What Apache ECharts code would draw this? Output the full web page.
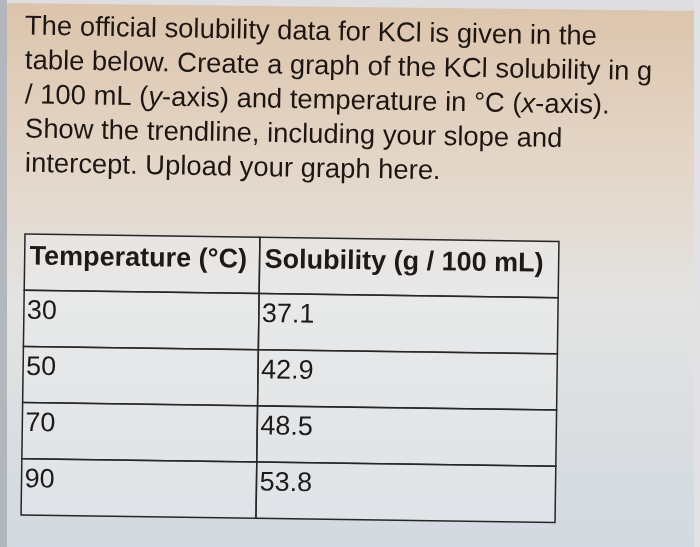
<!DOCTYPE html>
<html><head><meta charset="utf-8">
<script src="https://cdn.jsdelivr.net/npm/echarts@6/dist/echarts.min.js"></script>
<style>html,body{margin:0;padding:0;}#c{width:700px;height:547px;}</style>
</head><body><div id="c"></div>
<script>
// {i|..} marks italic letters as in the original prompt
var promptLines = [
  'The official solubility data for KCl is given in the',
  'table below. Create a graph of the KCl solubility in g',
  '/ 100 mL ({i|y}-axis) and temperature in \u00B0C ({i|x}-axis).',
  'Show the trendline, including your slope and',
  'intercept. Upload your graph here.'
];
var headers = ['Temperature (\u00B0C)', 'Solubility (g / 100 mL)'];
var temperatures = ['30', '50', '70', '90'];
var solubility = ['37.1', '42.9', '48.5', '53.8'];
var rowNames = ['header', 'r1', 'r2', 'r3', 'r4'];
var colSplit = 0.44;
var tilt = -0.014;
var FONT = ' Liberation Sans, Arial, sans-serif';

var cells = [];
headers.forEach(function (h, c) { cells.push([c, 0, h, 1]); });
temperatures.forEach(function (t, i) { cells.push([0, i + 1, t, 0]); });
solubility.forEach(function (s, i) { cells.push([1, i + 1, s, 0]); });

var gridLeft = 25, gridTop = 234;

var graphics = [
  {type: 'polygon', shape: {points: [[0, 0], [700, 0], [700, 11], [0, 3]]}, style: {fill: '#dedddf'}, silent: true},
  {type: 'rect', right: 0, top: 0, shape: {width: 6, height: 547}, style: {fill: '#e2e2e4'}, silent: true},
  {type: 'rect', left: 0, top: 0, shape: {width: 7, height: 547}, style: {fill: '#b2b6bd'}, silent: true}
];
promptLines.forEach(function (line, i) {
  graphics.push({
    type: 'text', x: 25, y: 27 + i * 34.3,
    rotation: -0.018,
    style: {text: line, fill: '#1e1612', font: '27.4px' + FONT, verticalAlign: 'middle', align: 'left',
            rich: {i: {fontStyle: 'italic', fontSize: 27.4, fontFamily: 'Liberation Sans, Arial, sans-serif', fill: '#1e1612'}}},
    silent: true
  });
});

var chart = echarts.init(document.getElementById('c'));
chart.setOption({
  backgroundColor: {
    type: 'linear', x: 0, y: 0, x2: 0, y2: 1,
    colorStops: [
      {offset: 0, color: '#dcc4ab'},
      {offset: 0.3, color: '#e4d6c8'},
      {offset: 0.55, color: '#e3e3e2'},
      {offset: 1, color: '#d2d9e0'}
    ]
  },
  graphic: graphics,
  grid: {left: gridLeft, top: gridTop, width: 534, height: 281},
  xAxis: {type: 'value', min: 0, max: 1, show: false},
  yAxis: {type: 'category', data: rowNames, inverse: true, show: false},
  series: [{
    type: 'custom',
    data: cells,
    renderItem: function (params, api) {
      var col = api.value(0), row = api.value(1);
      var x0 = col === 0 ? 0 : colSplit, x1 = col === 0 ? colSplit : 1;
      var p0 = api.coord([x0, row]);
      var p1 = api.coord([x1, row]);
      var h = api.size([0, 1])[1];
      var top = p0[1] - h / 2;
      var bold = api.value(3) === 1;
      var txt = cells[params.dataIndex][2];
      return {
        type: 'group',
        originX: gridLeft, originY: gridTop,
        rotation: tilt,
        children: [
          {type: 'rect', shape: {x: p0[0], y: top, width: p1[0] - p0[0], height: h},
           style: {fill: 'rgba(238,240,242,0.45)', stroke: '#262626', lineWidth: 1.5}},
          {type: 'text', x: p0[0] + (bold ? 5 : 3), y: top + (bold ? 23 : 21),
           style: {text: txt, fill: '#1e1a18', verticalAlign: 'middle', align: 'left',
                   font: (bold ? 'bold 27px' : '27px') + FONT}}
        ]
      };
    }
  }]
});
</script></body></html>
